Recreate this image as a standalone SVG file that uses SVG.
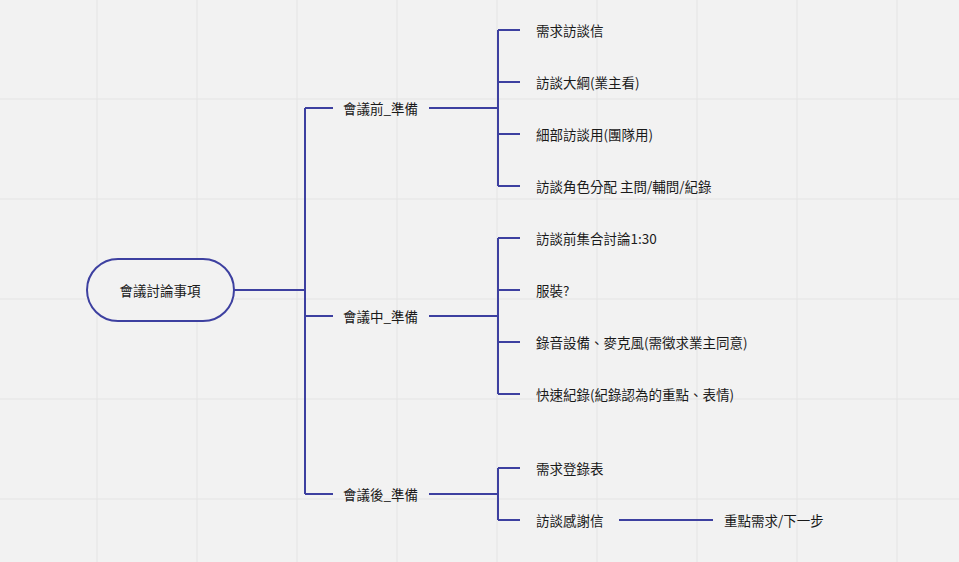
<svg xmlns="http://www.w3.org/2000/svg" width="959" height="562" viewBox="0 0 959 562">
<style>
.g{stroke:#e4e4e4;stroke-width:1}
.c{stroke:#3d40a0;stroke-width:2;fill:none}
text{font-family:"Noto Sans CJK TC","Noto Sans CJK SC",sans-serif;font-size:13.5px;fill:#1a1a1a;dominant-baseline:central}
</style>
<rect width="959" height="562" fill="#f2f2f2"/>
<g id="grid">
<path class="g" d="M97 0V562M197 0V562M297 0V562M397 0V562M497 0V562M597 0V562M697 0V562M797 0V562M897 0V562M0 99H959M0 199H959M0 299H959M0 399H959M0 499H959"/>
</g>
<g id="connectors">
<path class="c" d="M234 290H305M305 108V494M305 108H333M305 316H333M305 494H333"/>
<path class="c" d="M429 108H498M498 30V186M498 30H520M498 82H520M498 134H520M498 186H520"/>
<path class="c" d="M429 316H498M498 238V394M498 238H520M498 290H520M498 342H520M498 394H520"/>
<path class="c" d="M429 494H498M498 468V520M498 468H520M498 520H520M619 520H713"/>
</g>
<g id="root"><rect x="87" y="259" width="147" height="62" rx="31" fill="#f2f2f2" stroke="#3d40a0" stroke-width="2"/><text x="160" y="290" text-anchor="middle">會議討論事項</text></g>
<g id="b1"><text x="343" y="108">會議前_準備</text></g>
<g id="b2"><text x="343" y="316">會議中_準備</text></g>
<g id="b3"><text x="343" y="494">會議後_準備</text></g>
<g id="n1"><text x="536" y="30">需求訪談信</text></g>
<g id="n2"><text x="536" y="82">訪談大綱(業主看)</text></g>
<g id="n3"><text x="536" y="134">細部訪談用(團隊用)</text></g>
<g id="n4"><text x="536" y="186">訪談角色分配 主問/輔問/紀錄</text></g>
<g id="n5"><text x="536" y="238">訪談前集合討論1:30</text></g>
<g id="n6"><text x="536" y="290">服裝?</text></g>
<g id="n7"><text x="536" y="342">錄音設備、麥克風(需徵求業主同意)</text></g>
<g id="n8"><text x="536" y="394">快速紀錄(紀錄認為的重點、表情)</text></g>
<g id="n9"><text x="536" y="468">需求登錄表</text></g>
<g id="n10"><text x="536" y="520">訪談感謝信</text></g>
<g id="n11"><text x="724" y="520">重點需求/下一步</text></g>
</svg>
